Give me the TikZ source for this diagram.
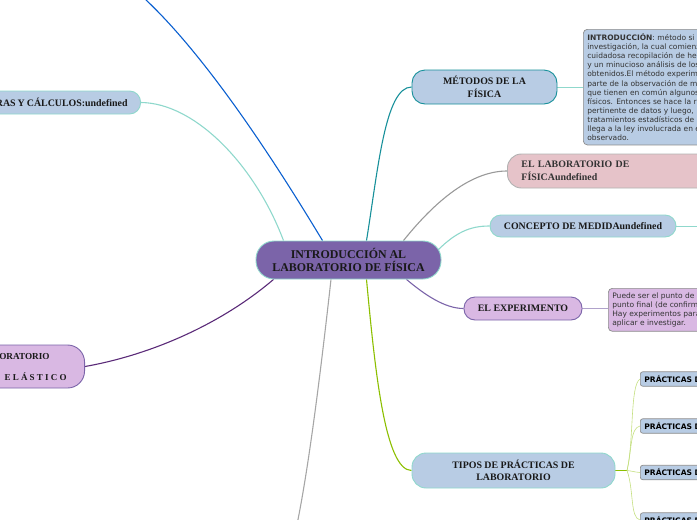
\documentclass[tikz,border=0pt]{standalone}
\usepackage{fontspec}
\setmainfont{Liberation Serif}
\newfontfamily\notefont{DejaVu Sans}
\usetikzlibrary{backgrounds}
\definecolor{bluefill}{HTML}{B8CCE4}
\definecolor{lilacfill}{HTML}{D9B8E3}
\definecolor{rosefill}{HTML}{E6C3C9}
\definecolor{rootfill}{HTML}{7B64A9}
\definecolor{tealline}{HTML}{8FD8CC}
\definecolor{deepteal}{HTML}{17909A}
\definecolor{limeline}{HTML}{8CBF00}
\definecolor{paleline}{HTML}{C4DF80}
\definecolor{bluelink}{HTML}{0A5FD0}
\definecolor{plumlink}{HTML}{5A2A78}
\tikzset{
	topic/.style={draw=tealline, line width=0.9pt, fill=bluefill, rounded corners=11pt, align=center, text=black!90, inner sep=0pt, font=\fontsize{9.9}{12.5}\selectfont\bfseries},
	note/.style={draw=black!45, line width=0.7pt, rounded corners=4pt, anchor=north west, align=left, inner xsep=4pt, inner ysep=4.2pt, text=black!80, font=\notefont\fontsize{7.5}{9.1}\selectfont},
	tipo/.style={draw=black!45, line width=0.7pt, fill=bluefill, rounded corners=2.5pt, anchor=west, minimum width=70pt, minimum height=14.5pt, inner xsep=4pt, inner ysep=0pt, text width=62pt, align=left, font=\notefont\fontsize{7.6}{9}\selectfont\bfseries},
	link/.style={line width=1.1pt},
	thinlink/.style={line width=0.6pt}
}

\begin{document}
\begin{tikzpicture}[x=1pt, y=-1pt]
	\useasboundingbox (0, 0) rectangle (697, 520);
	\node[topic, fill=rootfill, rounded corners=18pt, minimum width=185pt, minimum height=38pt, font=\fontsize{11.9}{13}\selectfont\bfseries] (central) at (348.5, 260) {INTRODUCCIÓN AL\\LABORATORIO DE FÍSICA};
	\node[topic, draw=deepteal, rounded corners=13pt, minimum width=145pt, minimum height=34pt] (metodos) at (484.5, 87) {MÉTODOS DE LA\\FÍSICA};
	\node[topic, draw=black!30, fill=rosefill, rounded corners=14pt, anchor=west, minimum width=240pt, minimum height=34pt, text width=212pt, align=left, text=black!80] (laboratorio) at (507, 171) {EL LABORATORIO DE\\FÍSICAundefined};
	\node[topic, minimum width=186pt, minimum height=22pt] (medida) at (583, 226) {CONCEPTO DE MEDIDAundefined};
	\node[topic, draw=rootfill, fill=lilacfill, minimum width=118pt, minimum height=23pt] (experimento) at (523, 308.5) {EL EXPERIMENTO};
	\node[topic, rounded corners=14pt, minimum width=203pt, minimum height=35pt] (tipos) at (513.5, 470.5) {TIPOS DE PRÁCTICAS DE\\LABORATORIO};
	\node[topic, anchor=east, minimum height=23pt, text width=187pt, align=right, inner xsep=13pt] (calculos) at (141, 102.5) {\spaceskip=2pt RAS Y CÁLCULOS:undefined};
	\node[topic, draw=rootfill, fill=lilacfill, rounded corners=17pt, anchor=east, minimum height=43pt, text width=170pt, align=right, inner xsep=18pt, font=\fontsize{9.2}{21}\selectfont\bfseries] (elastico) at (85, 366.5) {ORATORIO\rule{17pt}{0pt}\\{\fontsize{9}{21}\selectfont\spaceskip=2.2pt E L Á S T I C O}};
	\node[note, fill=bluefill] (intro) at (583, 29) {{\bfseries INTRODUCCIÓN}: método si\\investigación, la cual comienza\\cuidadosa recopilación de hec\\y un minucioso análisis de los\\obtenidos.El método experim\\parte de la observación de m\\que tienen en común algunos\\físicos. Entonces se hace la r\\pertinente de datos y luego, \\tratamientos estadísticos de l\\llega a la ley involucrada en e\\observado.};
	\node[note, fill=lilacfill] (punto) at (608, 288) {Puede ser el punto de\\punto final (de confirm\\Hay experimentos para\\aplicar e investigar.};
	\node[tipo] (practicaa) at (640, 379) {PRÁCTICAS D};
	\node[tipo] (practicab) at (640, 426) {PRÁCTICAS D};
	\node[tipo] (practicac) at (640, 472.5) {PRÁCTICAS D};
	\node[tipo] (practicad) at (640, 520) {PRÁCTICAS D};
	\coordinate (hub) at (627, 470.5);
	\coordinate (arriba) at (145, -1);
	\coordinate (abajo) at (297.5, 522);
	\coordinate (medidafin) at (699, 226);
	\begin{scope}[on background layer]
		\draw[link, bluelink] ([xshift=-26]central.north) .. controls (280, 170) and (210, 60) .. (arriba);
		\draw[link, tealline] ([xshift=-65]central.north) .. controls (255, 165) and (195, 103) .. (calculos.east);
		\draw[link, deepteal] ([xshift=18]central.north) .. controls (378, 170) and (385, 87) .. (metodos.west);
		\draw[link, black!40] ([xshift=55]central.north) .. controls (440, 195) and (475, 171) .. (laboratorio.west);
		\draw[link, tealline] ([xshift=-8, yshift=-14]central.north east) .. controls (455, 232) and (470, 226) .. (medida.west);
		\draw[link, rootfill] ([xshift=58]central.south) .. controls (425, 295) and (445, 308.5) .. (experimento.west);
		\draw[link, limeline] ([xshift=18]central.south) .. controls (375, 370) and (385, 470.5) .. (tipos.west);
		\draw[link, black!35] ([xshift=-17.5]central.south) .. controls (322, 360) and (310, 460) .. (abajo);
		\draw[link, plumlink] ([xshift=-75]central.south) .. controls (220, 325) and (150, 355) .. (elastico.east);
		\draw[thinlink, tealline] (metodos.east) -- (intro.west |- metodos.east);
		\draw[thinlink, tealline] (medida.east) -- (medidafin);
		\draw[thinlink, rootfill!60] (experimento.east) -- (punto.west |- experimento.east);
		\draw[link, limeline] (tipos.east) -- (hub);
		\draw[thinlink, paleline] (hub) .. controls (634, 440) and (630, 385) .. (practicaa.west);
		\draw[thinlink, paleline] (hub) .. controls (632, 450) and (630, 428) .. (practicab.west);
		\draw[thinlink, paleline] (hub) .. controls (632, 471) and (634, 472) .. (practicac.west);
		\draw[thinlink, paleline] (hub) .. controls (634, 490) and (630, 518) .. (practicad.west);
	\end{scope}
\end{tikzpicture}
\end{document}
